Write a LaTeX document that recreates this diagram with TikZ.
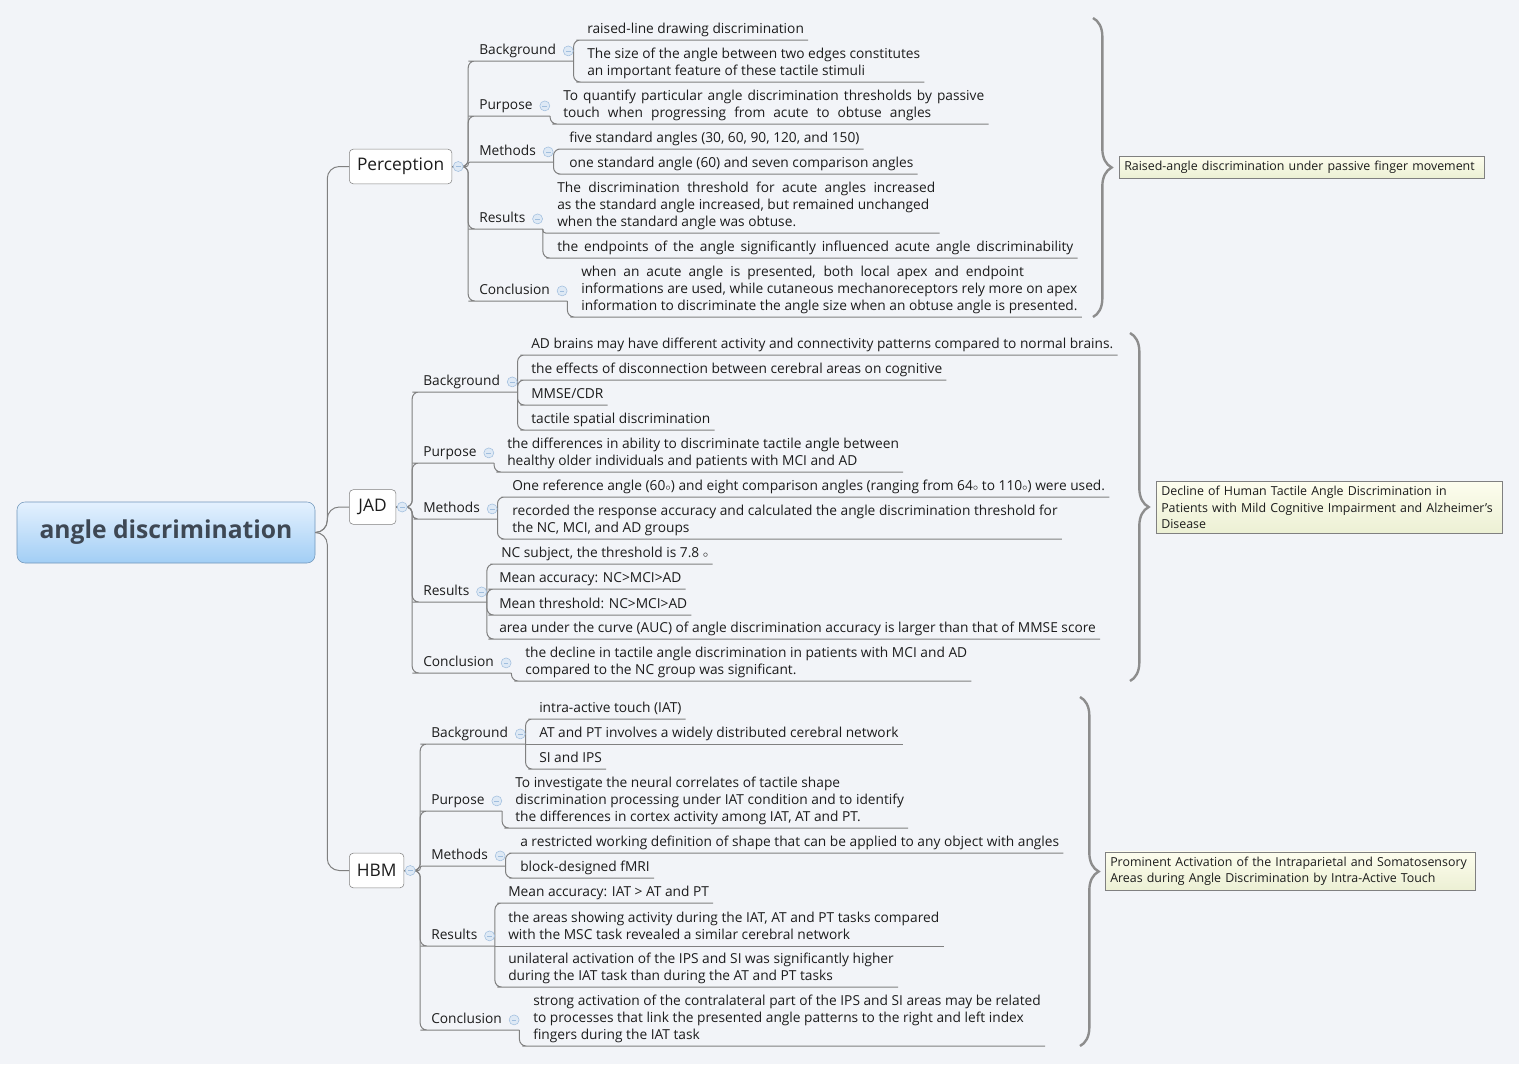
\documentclass[tikz,border=0pt]{standalone}
\usepackage{fontspec}
\setmainfont{Open Sans}
\usetikzlibrary{decorations.pathreplacing}

\definecolor{paper}{RGB}{242,244,248}
\definecolor{wire}{RGB}{128,128,128}
\definecolor{ink}{RGB}{28,28,28}
\definecolor{rootink}{RGB}{62,72,84}
\definecolor{roottop}{RGB}{228,241,254}
\definecolor{rootbot}{RGB}{162,206,245}
\definecolor{rootedge}{RGB}{112,150,186}
\definecolor{knobfill}{RGB}{222,233,245}
\definecolor{knobedge}{RGB}{160,190,222}
\definecolor{notetop}{RGB}{253,253,238}
\definecolor{notebot}{RGB}{236,240,212}

\tikzset{
    link/.style={draw=wire, line width=0.75pt, rounded corners=5pt},
    root/.style={draw=rootedge, top color=roottop, bottom color=rootbot, rounded corners=6pt,
        minimum width=223.5pt, minimum height=45.75pt, text=rootink,
        font=\bfseries\fontsize{18.5}{22}\selectfont},
    topic/.style={draw=wire, fill=white, rounded corners=3pt, anchor=west, minimum height=26pt,
        inner xsep=5.5pt, text=ink, font=\fontsize{13}{15}\selectfont},
    sub/.style={anchor=south west, inner xsep=3pt, inner ysep=1pt, align=left, text=ink,
        font=\fontsize{10.3}{12.75}\selectfont,
        execute at begin node=\strut, execute at end node=\strut},
    knob/.style={circle, draw=knobedge, fill=knobfill, line width=0.4pt, inner sep=0pt,
        minimum size=7.5pt, text=knobedge},
    note/.style={draw=wire, top color=notetop, bottom color=notebot, anchor=west, align=left,
        inner xsep=3.75pt, inner ysep=3.5pt, text=ink, font=\fontsize{9.3}{12.4}\selectfont},
    bracket/.style={draw=wire!90, line width=1.8pt, decorate, decoration={brace, amplitude=14pt}}
}

\begin{document}
\begin{tikzpicture}[x=0.75pt, y=-0.75pt]
        \fill[paper] (0,0) rectangle (1519,1064);
        \useasboundingbox (0,0) rectangle (1519,1064);

        %%main topics
        \node[root] (root) at (166,532.5){angle discrimination};
        \node[topic, minimum width=77pt] (perc) at (349,166.5){Perception};
        \node[topic, minimum width=35pt] (jad) at (349,507){JAD};
        \node[topic, minimum width=41pt] (hbm) at (349,870.5){HBM};

        %%Perception
        \node[sub] (pbg) at (475,61){Background};
            \node[sub] (pbg1) at (583,40){raised-line drawing discrimination};
            \node[sub] (pbg2) at (583,82){The size of the angle between two edges constitutes\\an important feature of these tactile stimuli};
        \node[sub] (ppu) at (475,116){Purpose};
            \node[sub] (ppu1) at (559,124){\makebox[315.75pt][s]{To quantify particular angle discrimination thresholds by passive}\\\makebox[276pt][s]{touch when progressing from acute to obtuse angles}};
        \node[sub] (pme) at (475,162){Methods};
            \node[sub] (pme1) at (565,149){five standard angles (30, 60, 90, 120, and 150)};
            \node[sub] (pme2) at (565,174){one standard angle (60) and seven comparison angles};
        \node[sub] (pre) at (475,229){Results};
            \node[sub] (pre1) at (553,233){\makebox[283.5pt][s]{The discrimination threshold for acute angles increased}\\as the standard angle increased, but remained unchanged\\when the standard angle was obtuse.};
            \node[sub] (pre2) at (553,258){\makebox[387pt][s]{the endpoints of the angle significantly influenced acute angle discriminability}};
        \node[sub] (pco) at (475,301){Conclusion};
            \node[sub] (pco1) at (577,317){\makebox[332pt][s]{when an acute angle is presented, both local apex and endpoint}\\informations are used, while cutaneous mechanoreceptors rely more on apex\\information to discriminate the angle size when an obtuse angle is presented.};

        %%JAD
        \node[sub] (jbg) at (419,392){Background};
            \node[sub] (jbg1) at (527,355){AD brains may have different activity and connectivity patterns compared to normal brains.};
            \node[sub] (jbg2) at (527,380){the effects of disconnection between cerebral areas on cognitive};
            \node[sub] (jbg3) at (527,405){MMSE/CDR};
            \node[sub] (jbg4) at (527,430){tactile spatial discrimination};
        \node[sub] (jpu) at (419,463){Purpose};
            \node[sub] (jpu1) at (503,472){the differences in ability to discriminate tactile angle between\\healthy older individuals and patients with MCI and AD};
        \node[sub] (jme) at (419,519){Methods};
            \node[sub] (jme1) at (508,497){One reference angle (60$\scriptstyle\circ$) and eight comparison angles (ranging from 64$\scriptstyle\circ$ to 110$\scriptstyle\circ$) were used.};
            \node[sub] (jme2) at (508,539){recorded the response accuracy and calculated the angle discrimination threshold for\\the NC, MCI, and AD groups};
        \node[sub] (jre) at (419,602){Results};
            \node[sub] (jre1) at (497,564){NC subject, the threshold is 7.8 $\scriptstyle\circ$};
            \node[sub] (jre2) at (495,589){Mean accuracy: NC>MCI>AD};
            \node[sub] (jre3) at (495,615){Mean threshold: NC>MCI>AD};
            \node[sub] (jre4) at (495,639){area under the curve (AUC) of angle discrimination accuracy is larger than that of MMSE score};
        \node[sub] (jco) at (419,673){Conclusion};
            \node[sub] (jco1) at (521,681){the decline in tactile angle discrimination in patients with MCI and AD\\compared to the NC group was significant.};

        %%HBM
        \node[sub] (hbg) at (427,744){Background};
            \node[sub] (hbg1) at (535,719){intra-active touch (IAT)};
            \node[sub] (hbg2) at (535,744){AT and PT involves a widely distributed cerebral network};
            \node[sub] (hbg3) at (535,769){SI and IPS};
        \node[sub] (hpu) at (427,811){Purpose};
            \node[sub] (hpu1) at (511,828){To investigate the neural correlates of tactile shape\\discrimination processing under IAT condition and to identify\\the differences in cortex activity among IAT, AT and PT.};
        \node[sub] (hme) at (427,866){Methods};
            \node[sub] (hme1) at (516,853){a restricted working definition of shape that can be applied to any object with angles};
            \node[sub] (hme2) at (516,878){block-designed fMRI};
        \node[sub] (hre) at (427,946){Results};
            \node[sub] (hre1) at (504,903){Mean accuracy: IAT > AT and PT};
            \node[sub] (hre2) at (504,946){the areas showing activity during the IAT, AT and PT tasks compared\\with the MSC task revealed a similar cerebral network};
            \node[sub] (hre3) at (504,987){unilateral activation of the IPS and SI was significantly higher\\during the IAT task than during the AT and PT tasks};
        \node[sub] (hco) at (427,1030){Conclusion};
            \node[sub] (hco1) at (529,1046){strong activation of the contralateral part of the IPS and SI areas may be related\\to processes that link the presented angle patterns to the right and left index\\fingers during the IAT task};

        %%summaries
        \node[note, text width=266pt] (n1) at (1119,167){Raised-angle discrimination under passive finger movement};
        \node[note, text width=252pt] (n2) at (1156,507.5){Decline of Human Tactile Angle Discrimination in\\Patients with Mild Cognitive Impairment and Alzheimer's\\Disease};
        \node[note, text width=270pt] (n3) at (1105,871){Prominent Activation of the Intraparietal and Somatosensory\\Areas during Angle Discrimination by Intra-Active Touch};
        \draw[bracket] (1093,18) -- (1093,317);
        \draw[bracket] (1130,333) -- (1130,681);
        \draw[bracket] (1080,697) -- (1080,1046);

        %%links
        \draw[link, rounded corners=9pt] (root.east) -- ++(12,0) |- (perc.west);
        \draw[link, rounded corners=9pt] (root.east) -- ++(12,0) |- (jad.west);
        \draw[link, rounded corners=9pt] (root.east) -- ++(12,0) |- (hbm.west);
        \foreach \t/\s/\r in {perc/pbg/5pt, perc/ppu/5pt, perc/pme/1.5pt, perc/pre/5pt, perc/pco/5pt,
                jad/jbg/5pt, jad/jpu/5pt, jad/jme/4pt, jad/jre/5pt, jad/jco/5pt,
                hbm/hbg/5pt, hbm/hpu/5pt, hbm/hme/1.5pt, hbm/hre/5pt, hbm/hco/5pt}
            \draw[link, rounded corners=\r] (\t.east) -- ++(16,0) |- (\s.south west) -- ([xshift=10pt]\s.south east);
        \foreach \s/\l in {pbg/pbg1, pbg/pbg2, ppu/ppu1, pme/pme1, pme/pme2, pre/pre2, pco/pco1,
                jbg/jbg1, jbg/jbg2, jbg/jbg3, jbg/jbg4, jpu/jpu1, jme/jme1, jme/jme2,
                jre/jre1, jre/jre2, jre/jre3, jre/jre4, jco/jco1,
                hbg/hbg1, hbg/hbg3, hpu/hpu1, hme/hme1, hme/hme2, hre/hre1, hre/hre3, hco/hco1}
            \draw[link] ([xshift=10pt]\s.south east) |- (\l.south west) -- (\l.south east);
        \draw[link, rounded corners=2pt] ([xshift=10pt]pre.south east) |- (pre1.south west) -- (pre1.south east);
        \draw[link] ([xshift=10pt]hbg.south east) -- (hbg2.south west) -- (hbg2.south east);
        \draw[link] ([xshift=10pt]hre.south east) -- (hre2.south west) -- (hre2.south east);

        %%knobs
        \foreach \t in {perc, jad, hbm}
            \node[knob] (k\t) at ([xshift=4.5pt]\t.east){\rule{3.5pt}{0.6pt}};
        \foreach \s in {pbg, ppu, pme, pre, pco, jbg, jpu, jme, jre, jco, hbg, hpu, hme, hre, hco}
            \node[knob] (k\s) at ([xshift=6pt]\s.east){\rule{3.5pt}{0.6pt}};
\end{tikzpicture}
\end{document}
